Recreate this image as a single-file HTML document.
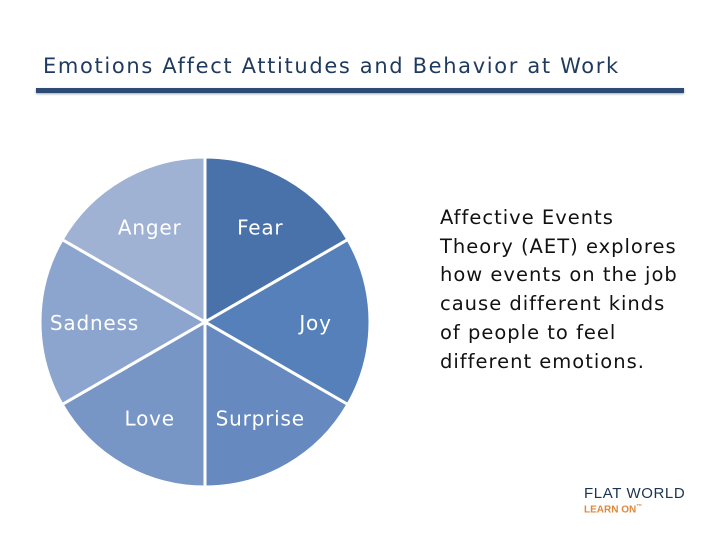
<!DOCTYPE html>
<html><head><meta charset="utf-8"><style>
body{margin:0;width:720px;height:540px;background:#fff;font-family:"DejaVu Sans","Liberation Sans",sans-serif;overflow:hidden;position:relative}
#title{position:absolute;left:43px;top:54px;font-size:21px;color:#1f3a5c;white-space:nowrap;letter-spacing:1.65px}
#rule{position:absolute;left:36px;top:88px;width:648px;height:5px;background:#2c4b75;box-shadow:0 1px 2px #9aa}
#body{position:absolute;left:440px;top:204px;font-size:19.5px;line-height:28.7px;color:#111;letter-spacing:1px;white-space:nowrap}
#logo1{position:absolute;left:584px;top:485px;font-size:15px;color:#1d3350;letter-spacing:0.6px;font-family:"Liberation Sans",sans-serif}
#logo2{position:absolute;left:584px;top:504px;font-size:10px;color:#e0883a;font-weight:bold;font-family:"Liberation Sans",sans-serif}
</style></head><body>
<div id="title">Emotions Affect Attitudes and Behavior at Work</div>
<div id="rule"></div>
<svg id="pie" width="720" height="540" style="position:absolute;left:0;top:0"></svg>
<div id="body">Affective Events<br>Theory (AET) explores<br>how events on the job<br>cause different kinds<br>of people to feel<br>different emotions.</div>
<div id="logo1">FLAT WORLD</div>
<div id="logo2">LEARN ON<sup style="font-size:6px">™</sup></div>
<script>
const labels=["Fear","Joy","Surprise","Love","Sadness","Anger"];
const values=[1,1,1,1,1,1];
const colors=["#4a72aa","#5580b9","#6689bf","#7896c5","#8ca5cf","#9fb2d3"];
const cx=205,cy=322,r=165;
const svg=document.getElementById('pie');
const NS="http://www.w3.org/2000/svg";
const total=values.reduce((a,b)=>a+b,0);
function pt(a,rr){return [cx+rr*Math.sin(a),cy-rr*Math.cos(a)];}
let a0=0;
values.forEach((v,i)=>{
  const a1=a0+v/total*2*Math.PI;
  const p0=pt(a0,r),p1=pt(a1,r);
  const large=(a1-a0)>Math.PI?1:0;
  const path=document.createElementNS(NS,'path');
  path.setAttribute('d',`M${cx},${cy}L${p0[0]},${p0[1]}A${r},${r} 0 ${large} 1 ${p1[0]},${p1[1]}Z`);
  path.setAttribute('fill',colors[i]);
  path.setAttribute('stroke','#fff');
  path.setAttribute('stroke-width','3');
  
  
  svg.appendChild(path);
  const m=(a0+a1)/2;
  const lp=pt(m,r*0.67);
  const t=document.createElementNS(NS,'text');
  t.setAttribute('x',lp[0]);t.setAttribute('y',lp[1]+8);
  t.setAttribute('text-anchor','middle');
  t.setAttribute('fill','#fff');
  t.setAttribute('font-size','20');
  t.setAttribute('letter-spacing','0.8');
  t.setAttribute('font-family','"DejaVu Sans","Liberation Sans",sans-serif');
  t.textContent=labels[i];
  
  
  svg.appendChild(t);
  a0=a1;
});
</script>
</body></html>
